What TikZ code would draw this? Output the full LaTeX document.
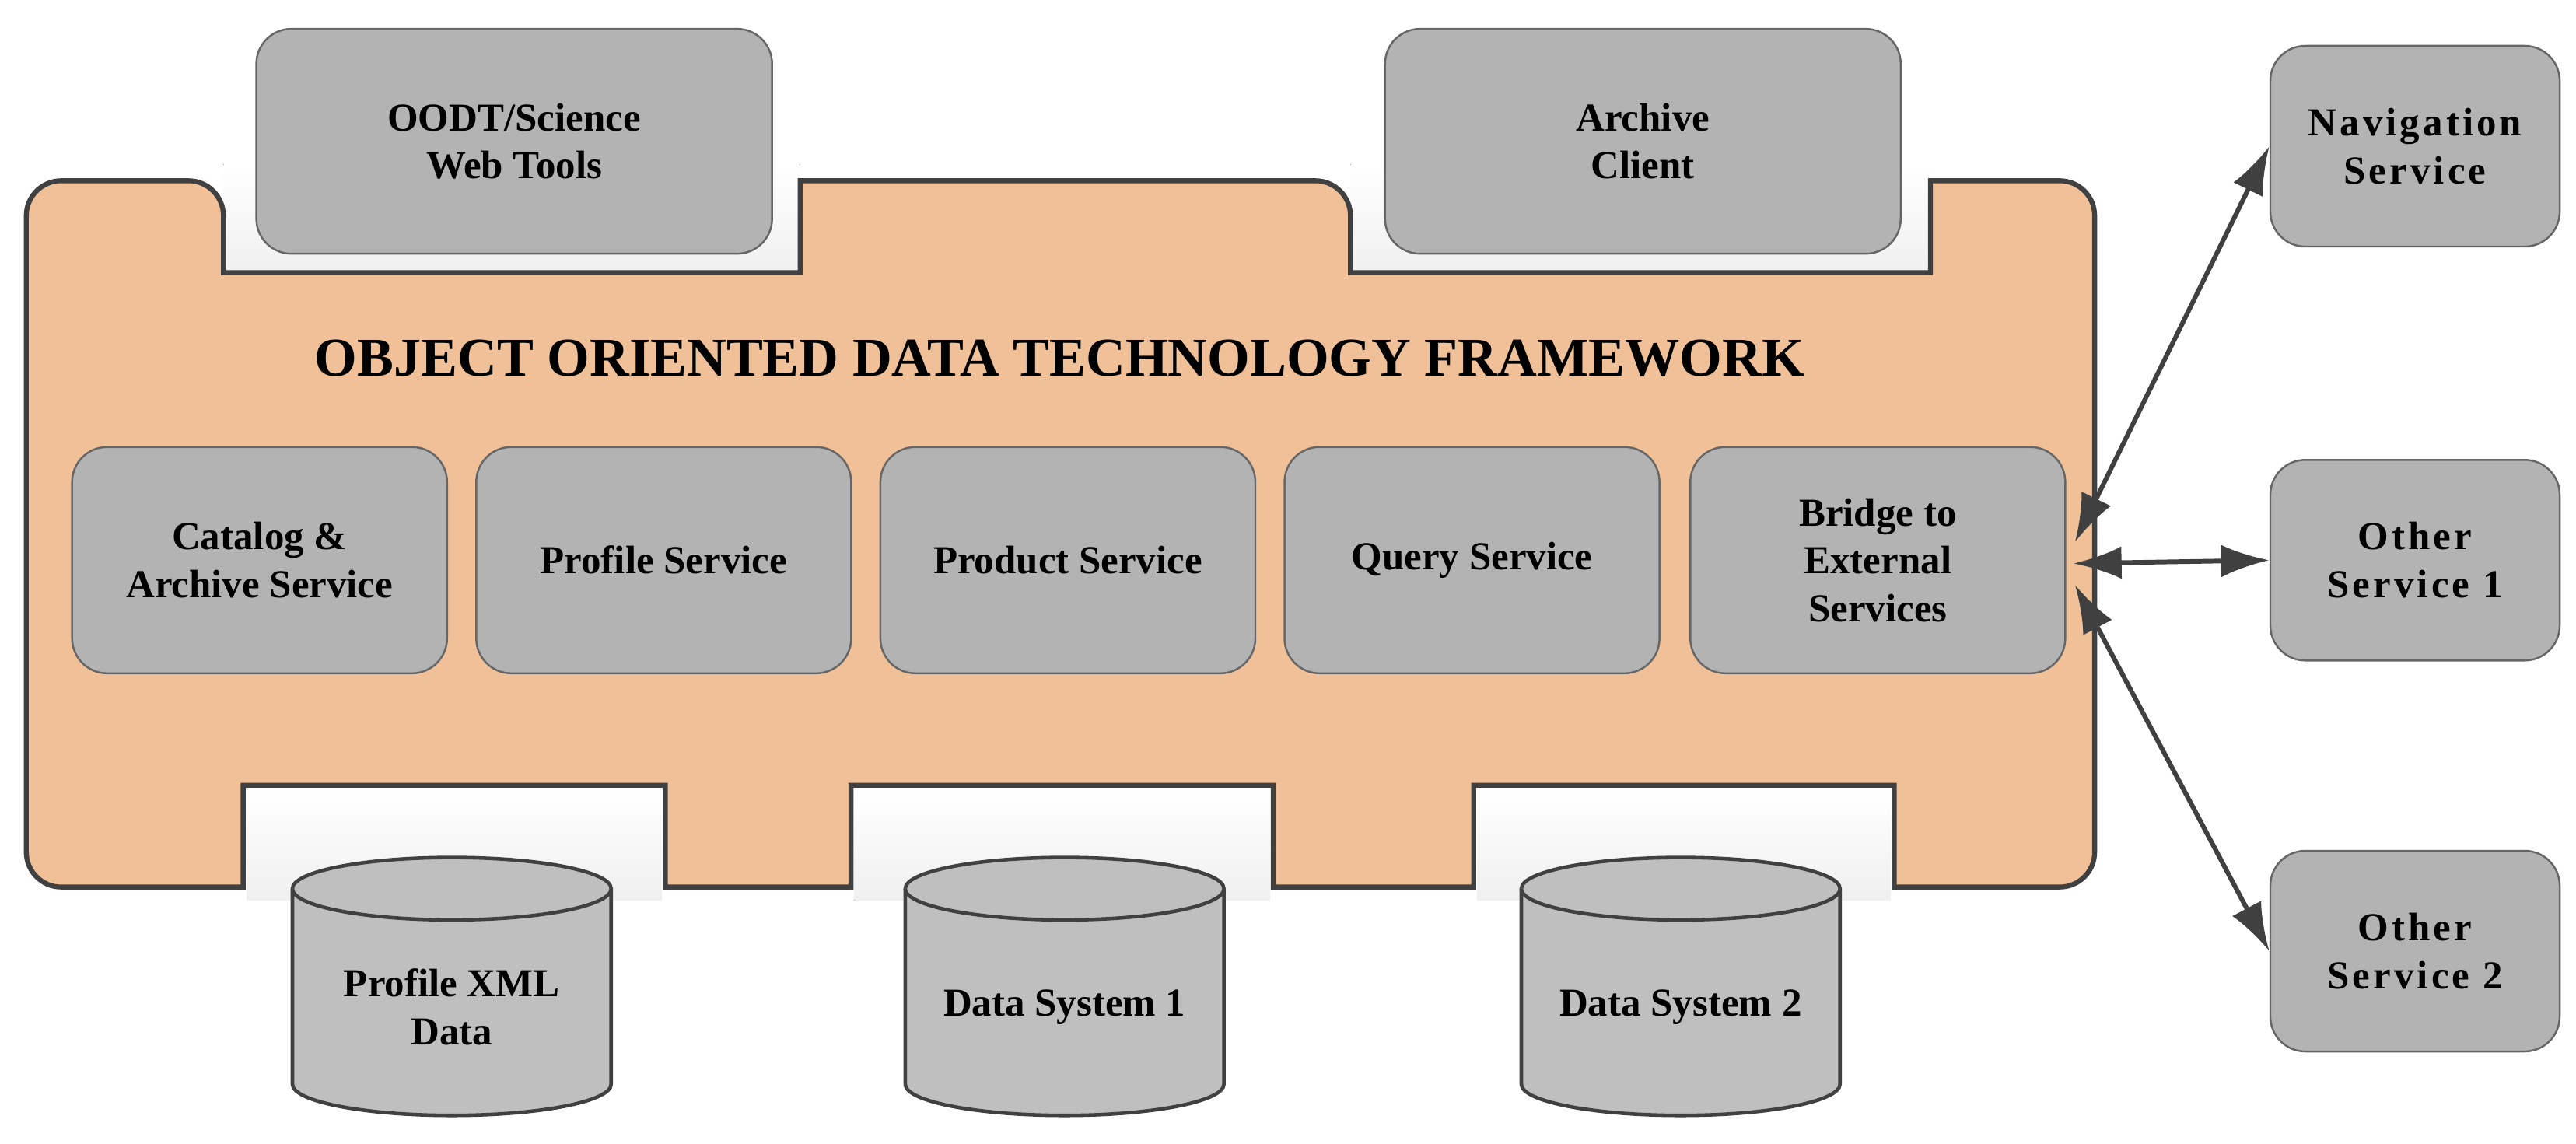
\documentclass[tikz,border=0pt]{standalone}
\usepackage{fontspec}
\setmainfont{Liberation Serif}
\usetikzlibrary{arrows.meta}
\definecolor{frameC}{HTML}{F0C098}
\definecolor{boxC}{HTML}{B3B3B3}
\definecolor{lineC}{HTML}{404040}
\begin{document}
\begin{tikzpicture}[x=0.2112mm,y=-0.2112mm,
  gbox/.style={draw=lineC!80,line width=0.7pt,fill=boxC,rounded corners=0.45cm,align=center,font=\fontsize{14.5}{17.5}\selectfont\bfseries,text=black},
  inbox/.style={gbox,minimum width=4.82cm,minimum height=2.91cm},
  topbox/.style={gbox,minimum width=6.63cm,minimum height=2.89cm},
  rbox/.style={gbox,minimum width=3.72cm,minimum height=2.58cm,font=\fontsize{14.5}{17.5}\selectfont\bfseries\addfontfeature{LetterSpace=8}},
  notch/.style={top color=white,bottom color=black!6,draw=none},
  conn/.style={<->,draw=lineC,line width=1.7pt,>={Latex[length=0.62cm,width=0.42cm]}},
  cyl/.style={draw=lineC,line width=1.3pt,fill=black!25}]
\useasboundingbox (0,0) rectangle (1568,696);
% notch backgrounds
\fill[notch] (136,100) rectangle (487,166);
\fill[notch] (822,100) rectangle (1175,166);
% frame
\path[fill=frameC,draw=lineC,line width=1.8pt,rounded corners=0.45cm]
  (16,540) -- (16,110) -- (136,110) [sharp corners]-- (136,166) -- (487,166) -- (487,110) [rounded corners=0.45cm]
  -- (822,110) [sharp corners]-- (822,166) -- (1175,166) -- (1175,110) [rounded corners=0.45cm]
  -- (1275,110) -- (1275,540) [sharp corners]-- (1153,540) -- (1153,478) -- (897,478) -- (897,540)
  -- (775,540) -- (775,478) -- (518,478) -- (518,540) -- (405,540) -- (405,478) -- (148,478) -- (148,540) [rounded corners=0.45cm] -- cycle;
\fill[notch] (150,480) rectangle (403,548);
\fill[notch] (520,480) rectangle (773,548);
\fill[notch] (899,480) rectangle (1151,548);
% top boxes
\node[topbox] (oodt) at (313,86) {OODT/Science\\Web Tools};
\node[topbox] (arch) at (1000,86) {Archive\\Client};
% title
\node[font=\fontsize{20}{24}\selectfont\bfseries] (title) at (645,218) {OBJECT ORIENTED DATA TECHNOLOGY FRAMEWORK};
% inner boxes
\node[inbox] (cat) at (158,341) {Catalog \&\\Archive Service};
\node[inbox] (prof) at (404,341) {Profile Service};
\node[inbox] (prod) at (650,341) {Product Service};
\node[inbox] (query) at (896,341) {Query Service};
\node[inbox] (bridge) at (1143,341) {Bridge to\\External\\Services};
% right boxes
\node[rbox] (nav) at (1470,89) {Navigation\\Service};
\node[rbox] (os1) at (1470,341) {Other\\Service 1};
\node[rbox] (os2) at (1470,579) {Other\\Service 2};
% cylinders
\foreach \cx/\nm/\txt in {275/pxd/{Profile XML\\Data},648/ds1/{Data System 1},1023/ds2/{Data System 2}}{
  \path[cyl] (\cx-97,541) -- (\cx-97,660) arc[start angle=180,end angle=360,x radius=97,y radius=-19] -- (\cx+97,541) arc[start angle=0,end angle=180,x radius=97,y radius=-19] -- cycle;
  \draw[cyl] (\cx-97,541) arc[start angle=180,end angle=360,x radius=97,y radius=-19];
  \node[align=center,font=\fontsize{14.5}{17.5}\selectfont\bfseries] (\nm) at (\cx,613) {\txt};
}
% connectors
\coordinate (b1) at (1263,330);
\coordinate (b2) at (1262,343);
\coordinate (b3) at (1263,356);
\draw[conn] (b1) -- (nav.west);
\draw[conn] (b2) -- (os1.west);
\draw[conn] (b3) -- (os2.west);
\end{tikzpicture}
\end{document}
